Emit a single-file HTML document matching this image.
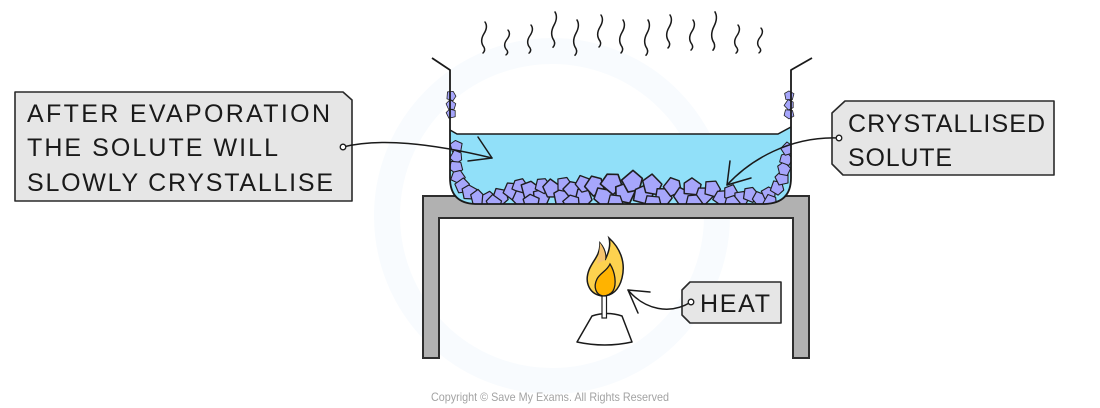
<!DOCTYPE html>
<html><head><meta charset="utf-8"><style>
html,body{margin:0;padding:0;background:#fff;}
svg{display:block;}
text{font-family:"Liberation Sans",sans-serif;fill:#1a1a1a;}
</style></head><body>
<svg width="1100" height="408" viewBox="0 0 1100 408" xmlns="http://www.w3.org/2000/svg">
<defs>
<polygon id="c1" points="-6,-5 2,-7 7,-1 4,6 -5,5"/>
<polygon id="c2" points="-7,-2 -2,-7 6,-5 6,4 -3,6"/>
<polygon id="c3" points="-5,-6 5,-5 7,3 0,7 -7,2"/>
<polygon id="c4" points="-6,-3 0,-7 7,-2 5,6 -6,5"/>
<clipPath id="basin"><path d="M450,70 L450,178 Q450,203 475,204 L765,204 Q791,203 791,178 L791,70 Z"/></clipPath>
<path id="sq" d="M0,0 c2,3 2,7 -1,12 c-3,5 -3,10 0,14 c1,2 1,4 -1,6"/>
</defs>

<circle cx="552" cy="216" r="165" fill="none" stroke="#f8fbfe" stroke-width="26"/>

<g fill="none" stroke="#1a1a1a" stroke-width="1.5" stroke-linecap="round">
<use href="#sq" transform="translate(485,22) scale(1,0.97)"/>
<use href="#sq" transform="translate(508,30) scale(1,0.78)"/>
<use href="#sq" transform="translate(531,25) scale(1,0.88)"/>
<use href="#sq" transform="translate(555,12) scale(1,1.1)"/>
<use href="#sq" transform="translate(577,20) scale(1,1.1)"/>
<use href="#sq" transform="translate(601,15) scale(1,1.0)"/>
<use href="#sq" transform="translate(623,20) scale(1,1.03)"/>
<use href="#sq" transform="translate(648,20) scale(1,1.1)"/>
<use href="#sq" transform="translate(670,15) scale(1,1.03)"/>
<use href="#sq" transform="translate(693,20) scale(1,0.94)"/>
<use href="#sq" transform="translate(715,12) scale(1,1.19)"/>
<use href="#sq" transform="translate(738,25) scale(1,0.88)"/>
<use href="#sq" transform="translate(761,28) scale(1,0.78)"/>
</g>

<path d="M423,358 L423,196 L809,196 L809,358 L793,358 L793,218 L439,218 L439,358 Z" fill="#b1b1b1" stroke="#2e2e2e" stroke-width="2"/>

<path d="M450,130 L457,134 L778,134 L791,127 L791,178 Q791,203 765,204 L475,204 Q450,203 450,178 Z" fill="#91e0f9"/>
<path d="M450,130 L457,134 L778,134 L791,127" fill="none" stroke="#1a1a1a" stroke-width="1.5"/>

<g fill="#a6a6fb" stroke="#1e1e1e" stroke-width="1.1" stroke-linejoin="round">
<use href="#c1" transform="translate(451,96) rotate(10) scale(0.7)"/>
<use href="#c3" transform="translate(451,105) rotate(30) scale(0.7)"/>
<use href="#c2" transform="translate(451,114) rotate(0) scale(0.7)"/>
<use href="#c2" transform="translate(789,96) rotate(15) scale(0.7)"/>
<use href="#c1" transform="translate(789,105) rotate(40) scale(0.7)"/>
<use href="#c3" transform="translate(789,114) rotate(0) scale(0.7)"/>
<g clip-path="url(#basin)">
<use href="#c2" transform="translate(456,147) rotate(10) scale(0.9)"/>
<use href="#c1" transform="translate(456,157) rotate(35) scale(0.9)"/>
<use href="#c3" transform="translate(456,167) rotate(0) scale(0.95)"/>
<use href="#c4" transform="translate(458,177) rotate(20) scale(1)"/>
<use href="#c1" transform="translate(462,186) rotate(60) scale(1.05)"/>
<use href="#c2" transform="translate(469,193) rotate(15) scale(1.1)"/>
<use href="#c3" transform="translate(478,198) rotate(40) scale(1.1)"/>
<use href="#c4" transform="translate(489,199) rotate(5) scale(1.1)"/>
<use href="#c1" transform="translate(500,197) rotate(25) scale(1.2)"/>
<use href="#c2" transform="translate(511,191) rotate(50) scale(1.2)"/>
<use href="#c4" transform="translate(520,186) rotate(20) scale(1.1)"/>
<use href="#c3" transform="translate(521,199) rotate(10) scale(1.2)"/>
<use href="#c4" transform="translate(530,190) rotate(70) scale(1.3)"/>
<use href="#c1" transform="translate(541,198) rotate(0) scale(1.25)"/>
<use href="#c2" transform="translate(542,186) rotate(40) scale(1.1)"/>
<use href="#c3" transform="translate(552,189) rotate(30) scale(1.3)"/>
<use href="#c2" transform="translate(562,198) rotate(15) scale(1.3)"/>
<use href="#c1" transform="translate(564,185) rotate(5) scale(1.1)"/>
<use href="#c4" transform="translate(573,190) rotate(45) scale(1.3)"/>
<use href="#c1" transform="translate(583,198) rotate(20) scale(1.3)"/>
<use href="#c3" transform="translate(584,184) rotate(15) scale(1.2)"/>
<use href="#c2" transform="translate(594,186) rotate(60) scale(1.4)"/>
<use href="#c3" transform="translate(604,197) rotate(5) scale(1.4)"/>
<use href="#c4" transform="translate(612,183) rotate(35) scale(1.5)"/>
<use href="#c2" transform="translate(624,194) rotate(25) scale(1.5)"/>
<use href="#c1" transform="translate(632,182) rotate(55) scale(1.5)"/>
<use href="#c4" transform="translate(643,195) rotate(10) scale(1.4)"/>
<use href="#c3" transform="translate(652,185) rotate(40) scale(1.4)"/>
<use href="#c1" transform="translate(663,197) rotate(15) scale(1.3)"/>
<use href="#c2" transform="translate(672,187) rotate(65) scale(1.3)"/>
<use href="#c3" transform="translate(683,197) rotate(20) scale(1.3)"/>
<use href="#c4" transform="translate(692,187) rotate(0) scale(1.3)"/>
<use href="#c2" transform="translate(703,196) rotate(45) scale(1.25)"/>
<use href="#c1" transform="translate(712,189) rotate(10) scale(1.2)"/>
<use href="#c4" transform="translate(722,198) rotate(30) scale(1.2)"/>
<use href="#c3" transform="translate(731,193) rotate(55) scale(1.1)"/>
<use href="#c1" transform="translate(741,199) rotate(5) scale(1.1)"/>
<use href="#c2" transform="translate(750,195) rotate(35) scale(1.1)"/>
<use href="#c3" transform="translate(760,199) rotate(15) scale(1.05)"/>
<use href="#c4" transform="translate(769,194) rotate(60) scale(1.05)"/>
<use href="#c1" transform="translate(777,188) rotate(25) scale(1)"/>
<use href="#c2" transform="translate(782,179) rotate(0) scale(1)"/>
<use href="#c3" transform="translate(784,169) rotate(40) scale(0.95)"/>
<use href="#c4" transform="translate(786,159) rotate(15) scale(0.9)"/>
<use href="#c1" transform="translate(787,149) rotate(50) scale(0.9)"/>
<use href="#c3" transform="translate(494,203) rotate(30) scale(1.1)"/>
<use href="#c2" transform="translate(531,203) rotate(10) scale(1.2)"/>
<use href="#c4" transform="translate(572,203) rotate(50) scale(1.2)"/>
<use href="#c1" transform="translate(615,203) rotate(20) scale(1.2)"/>
<use href="#c3" transform="translate(653,203) rotate(0) scale(1.2)"/>
<use href="#c2" transform="translate(693,203) rotate(40) scale(1.2)"/>
<use href="#c4" transform="translate(732,203) rotate(15) scale(1.1)"/>
<use href="#c1" transform="translate(770,202) rotate(35) scale(1)"/>
</g>
</g>

<path d="M432,58 L450,70 L450,178 Q450,203 475,204 L765,204 Q791,203 791,178 L791,70 L812,58" fill="none" stroke="#1a1a1a" stroke-width="1.8" stroke-linejoin="round"/>

<path d="M603,296 C590,295 584,283 589,270 C593,260 600,256 600,243 C606,250 606,256 605,260 C609,252 611,245 609,238 C620,248 626,262 622,278 C619,290 612,296 603,296 Z" fill="#fdd24f" stroke="#1a1a1a" stroke-width="1.5"/>
<path d="M600,243 C605,250 606,256 605,260 C601,262 598,263 597,265 C598,256 600,250 600,243 Z" fill="#f6c46f"/>
<path d="M603,296 C596,295 593,287 597,279 C600,273 607,271 610,264 C615,272 617,284 613,291 C611,294 607,296 603,296 Z" fill="#ffb300" stroke="#1a1a1a" stroke-width="1.3"/>
<path d="M592,316 Q607,311 622,316 L632,342 Q605,348 577,342 Z" fill="#fff" stroke="#1a1a1a" stroke-width="1.5" stroke-linejoin="round"/>
<rect x="602" y="296" width="4.5" height="22" fill="#fff" stroke="#1a1a1a" stroke-width="1.2"/>

<g fill="#e6e6e6" stroke="#2a2a2a" stroke-width="1.6" stroke-linejoin="round">
<path d="M15,92 L343,92 L352,100 L352,201 L15,201 Z"/>
<path d="M845,101 L1054,101 L1054,175 L843,175 L832,164 L832,113 Z"/>
<path d="M690,282 L781,282 L781,323 L690,323 L682,315 L682,290 Z"/>
</g>

<text x="27" y="122" font-size="25" textLength="303" lengthAdjust="spacing">AFTER  EVAPORATION</text>
<text x="27" y="156" font-size="25" textLength="251" lengthAdjust="spacing">THE  SOLUTE  WILL</text>
<text x="27" y="191" font-size="25" textLength="306" lengthAdjust="spacing">SLOWLY  CRYSTALLISE</text>
<text x="848" y="132" font-size="25" textLength="197" lengthAdjust="spacing">CRYSTALLISED</text>
<text x="848" y="166" font-size="25" textLength="104" lengthAdjust="spacing">SOLUTE</text>
<text x="700" y="312" font-size="25" textLength="70" lengthAdjust="spacing">HEAT</text>

<g fill="none" stroke="#1a1a1a" stroke-width="1.5" stroke-linecap="round" stroke-linejoin="round">
<path d="M343,147 C380,138 430,143 492,158"/>
<path d="M478,137 L492,158 L468,161"/>
<path d="M839,138 C790,136 750,160 727,185"/>
<path d="M730,161 L727,185 L751,178"/>
<path d="M691,302 C670,315 645,310 628,290"/>
<path d="M650,292 L628,290 L638,313"/>
</g>
<g fill="#fff" stroke="#1a1a1a" stroke-width="1.3">
<circle cx="343" cy="147" r="2.8"/>
<circle cx="839" cy="138" r="2.8"/>
<circle cx="691" cy="302" r="2.8"/>
</g>

<text x="431" y="401" font-size="12" textLength="238" lengthAdjust="spacingAndGlyphs" style="fill:#a3a3a3">Copyright © Save My Exams. All Rights Reserved</text>
</svg>
</body></html>
